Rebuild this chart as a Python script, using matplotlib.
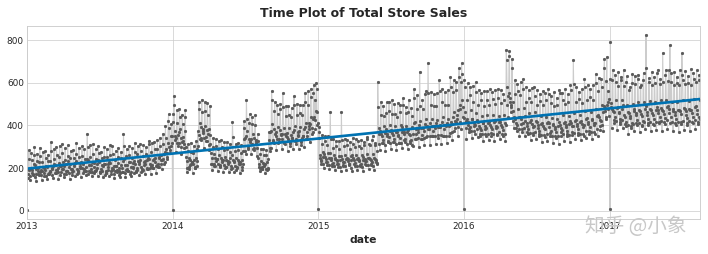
import numpy as np
import pandas as pd
import matplotlib
matplotlib.use("Agg")
import matplotlib.pyplot as plt
import matplotlib.dates as mdates

plt.style.use("seaborn-v0_8-whitegrid")
plt.rcParams["font.family"] = ["DejaVu Sans"]
plt.rc("axes", labelweight="bold", labelsize="large", titleweight="bold",
       titlesize=14, titlepad=10)

title = "Time Plot of Total Store Sales"
xlabel = "date"
watermark = "知乎 @小象"

# average daily sales, one list per year (rows of 7 days from Jan 1)
sales_2013 = [
    2, 196, 151, 172, 241, 283, 189,
    163, 201, 146, 198, 271, 236, 178,
    191, 168, 170, 219, 259, 297, 214,
    158, 193, 141, 174, 232, 268, 201,
    186, 172, 167, 226, 296, 258, 183,
    167, 189, 143, 186, 228, 274, 206,
    198, 176, 162, 192, 281, 249, 211,
    161, 203, 149, 171, 263, 232, 176,
    174, 188, 181, 231, 321, 278, 198,
    193, 166, 154, 208, 244, 287, 221,
    177, 214, 176, 191, 298, 263, 189,
    201, 181, 148, 224, 251, 305, 208,
    168, 209, 183, 197, 312, 271, 226,
    196, 174, 157, 211, 239, 292, 184,
    172, 217, 186, 186, 306, 258, 231,
    205, 178, 149, 221, 248, 281, 193,
    169, 193, 181, 188, 285, 247, 219,
    208, 224, 162, 231, 268, 318, 197,
    174, 186, 177, 184, 296, 253, 222,
    211, 198, 156, 226, 256, 301, 201,
    176, 219, 184, 193, 287, 244, 186,
    203, 187, 169, 241, 362, 297, 238,
    171, 214, 186, 179, 252, 306, 194,
    212, 181, 161, 229, 311, 266, 224,
    178, 206, 188, 184, 243, 289, 191,
    201, 219, 164, 236, 304, 271, 229,
    182, 176, 181, 197, 276, 248, 186,
    213, 209, 158, 221, 251, 298, 218,
    169, 186, 177, 178, 289, 254, 192,
    204, 218, 163, 229, 262, 307, 223,
    186, 174, 189, 202, 301, 268, 196,
    171, 208, 152, 184, 239, 281, 211,
    209, 189, 179, 223, 294, 251, 187,
    166, 201, 157, 176, 248, 276, 214,
    198, 181, 183, 232, 358, 302, 241,
    176, 212, 159, 191, 258, 289, 196,
    214, 188, 186, 228, 305, 262, 226,
    171, 206, 163, 183, 247, 292, 201,
    206, 222, 178, 234, 318, 276, 219,
    187, 183, 191, 198, 264, 301, 232,
    219, 227, 166, 238, 313, 279, 204,
    181, 194, 188, 192, 258, 306, 229,
    216, 219, 171, 231, 297, 268, 201,
    193, 236, 196, 247, 328, 311, 243,
    221, 201, 174, 209, 276, 318, 212,
    198, 238, 199, 241, 322, 289, 248,
    226, 209, 178, 216, 289, 331, 219,
    204, 246, 206, 252, 343, 304, 259,
    238, 221, 197, 236, 311, 362, 241,
    219, 268, 226, 274, 396, 341, 289,
    271, 252, 241, 318, 421, 452, 298,
    387, 286, 271, 302, 351, 408, 316,
    352,
]

sales_2014 = [
    5, 418, 452, 537, 496, 372, 331,
    352, 276, 341, 412, 471, 318, 356,
    301, 318, 367, 478, 438, 381, 298,
    342, 268, 322, 451, 406, 326, 347,
    296, 311, 376, 438, 472, 298, 254,
    231, 182, 201, 281, 312, 248, 196,
    204, 213, 238, 318, 276, 219, 227,
    226, 178, 219, 271, 302, 236, 201,
    198, 206, 246, 326, 291, 211, 232,
    372, 301, 356, 512, 478, 412, 338,
    331, 342, 394, 521, 462, 366, 372,
    384, 296, 341, 468, 509, 398, 329,
    346, 328, 378, 504, 447, 361, 381,
    308, 286, 312, 489, 356, 271, 221,
    246, 192, 218, 298, 341, 268, 208,
    219, 211, 249, 336, 302, 232, 241,
    241, 186, 221, 288, 326, 262, 203,
    212, 208, 246, 331, 298, 229, 236,
    238, 183, 214, 284, 321, 251, 198,
    206, 204, 238, 322, 287, 221, 229,
    231, 179, 226, 276, 314, 246, 194,
    209, 202, 261, 416, 346, 236, 227,
    233, 181, 208, 279, 312, 248, 191,
    204, 199, 236, 318, 284, 219, 226,
    228, 176, 219, 271, 306, 238, 189,
    206, 221, 281, 388, 421, 336, 278,
    341, 268, 352, 518, 432, 372, 296,
    302, 289, 336, 411, 452, 322, 331,
    338, 264, 311, 438, 406, 361, 289,
    296, 286, 342, 402, 447, 318, 326,
    331, 258, 296, 361, 326, 248, 206,
    218, 184, 198, 268, 291, 232, 193,
    197, 203, 224, 287, 262, 209, 218,
    221, 176, 196, 259, 284, 228, 189,
    194, 198, 241, 331, 368, 281, 296,
    368, 296, 372, 561, 518, 408, 331,
    326, 318, 381, 468, 512, 359, 352,
    371, 284, 338, 496, 452, 392, 318,
    334, 321, 379, 478, 501, 362, 356,
    362, 289, 338, 551, 488, 386, 318,
    321, 311, 362, 442, 491, 348, 346,
    366, 282, 334, 489, 451, 389, 316,
    318, 304, 356, 441, 482, 342, 339,
    371, 291, 378, 536, 497, 396, 326,
    328, 312, 336, 451, 502, 356, 348,
    368, 289, 372, 498, 458, 392, 321,
    332, 309, 341, 447, 496, 352, 351,
    381, 298, 392, 552, 508, 411, 336,
    352, 338, 368, 498, 561, 398, 382,
    412, 321, 406, 571, 532, 441, 362,
    389, 368, 431, 552, 591, 438, 426,
    521, 381, 468, 601, 571, 461, 402,
    412,
]

sales_2015 = [
    9, 341, 368, 392, 262, 248, 231,
    221, 236, 312, 356, 276, 219, 254,
    198, 264, 348, 326, 251, 241, 226,
    216, 229, 309, 351, 271, 212, 249,
    194, 271, 461, 338, 248, 236, 221,
    211, 224, 296, 334, 261, 208, 241,
    189, 248, 326, 304, 239, 232, 219,
    206, 221, 291, 329, 258, 204, 238,
    187, 256, 462, 331, 242, 228, 214,
    209, 226, 301, 338, 263, 211, 242,
    191, 249, 331, 306, 241, 234, 221,
    212, 218, 289, 324, 256, 202, 236,
    188, 259, 341, 312, 247, 237, 219,
    208, 224, 298, 336, 262, 209, 244,
    192, 246, 328, 301, 238, 231, 216,
    211, 219, 292, 331, 259, 206, 239,
    186, 251, 321, 309, 244, 235, 221,
    214, 232, 338, 346, 268, 214, 248,
    194, 249, 312, 308, 241, 236, 219,
    216, 226, 331, 351, 266, 211, 246,
    191, 242, 306, 316, 238, 229, 224,
    218, 281, 604, 486, 388, 312, 361,
    286, 372, 448, 512, 361, 352, 318,
    318, 331, 491, 446, 396, 308, 366,
    281, 381, 456, 508, 358, 349, 321,
    326, 346, 512, 468, 401, 318, 372,
    289, 379, 452, 519, 366, 356, 324,
    321, 336, 502, 452, 398, 311, 371,
    284, 368, 441, 506, 354, 348, 319,
    319, 341, 498, 461, 402, 316, 368,
    296, 392, 528, 496, 371, 362, 331,
    322, 338, 486, 458, 399, 314, 369,
    288, 378, 462, 521, 362, 354, 328,
    316, 332, 481, 446, 392, 306, 361,
    301, 412, 571, 531, 418, 338, 384,
    336, 359, 476, 541, 382, 371, 341,
    298, 402, 652, 492, 421, 338, 389,
    334, 354, 518, 476, 386, 376, 339,
    306, 408, 548, 562, 428, 346, 396,
    348, 381, 694, 551, 391, 384, 352,
    308, 412, 496, 558, 432, 348, 398,
    352, 376, 548, 491, 398, 389, 348,
    311, 409, 489, 551, 426, 342, 394,
    356, 392, 612, 562, 404, 391, 356,
    314, 418, 508, 571, 438, 352, 401,
    349, 381, 556, 498, 401, 396, 352,
    318, 412, 496, 564, 431, 348, 398,
    366, 402, 628, 581, 418, 408, 368,
    331, 438, 558, 612, 462, 372, 421,
    389, 418, 602, 568, 448, 431, 392,
    352, 471, 628, 668, 498, 418, 476,
    602, 381, 692, 641, 521, 438, 486,
    436,
]

sales_2016 = [
    8, 612, 578, 462, 386, 421, 338,
    431, 521, 598, 418, 404, 381, 368,
    392, 581, 542, 471, 372, 431, 341,
    428, 512, 586, 412, 398, 376, 362,
    401, 602, 556, 458, 381, 426, 346,
    416, 496, 568, 398, 389, 362, 351,
    378, 551, 521, 442, 358, 412, 326,
    412, 491, 562, 396, 384, 358, 348,
    386, 562, 518, 448, 362, 409, 331,
    418, 498, 571, 402, 391, 364, 352,
    381, 556, 526, 451, 361, 414, 329,
    421, 502, 568, 398, 388, 359, 354,
    392, 572, 531, 446, 368, 416, 336,
    416, 506, 566, 404, 392, 362, 351,
    378, 548, 521, 448, 359, 411, 328,
    402, 752, 708, 582, 498, 536, 441,
    552, 726, 748, 528, 512, 486, 462,
    498, 712, 671, 512, 421, 468, 386,
    441, 548, 612, 432, 411, 386, 372,
    402, 596, 561, 478, 382, 438, 348,
    438, 541, 604, 428, 408, 381, 369,
    412, 618, 572, 481, 389, 442, 352,
    421, 512, 578, 412, 396, 368, 358,
    384, 566, 528, 456, 364, 418, 332,
    424, 509, 574, 408, 394, 364, 356,
    396, 582, 536, 462, 371, 421, 338,
    414, 498, 566, 401, 388, 359, 349,
    376, 548, 514, 446, 356, 408, 321,
    411, 494, 561, 398, 386, 356, 346,
    381, 552, 521, 441, 359, 412, 326,
    418, 571, 548, 412, 391, 366, 348,
    372, 538, 506, 436, 352, 402, 318,
    408, 489, 556, 394, 382, 351, 342,
    368, 531, 498, 431, 348, 398, 314,
    416, 568, 552, 402, 388, 371, 349,
    379, 552, 518, 448, 358, 412, 326,
    418, 501, 572, 404, 392, 362, 352,
    376, 546, 512, 442, 356, 406, 322,
    421, 592, 568, 412, 396, 369, 354,
    398, 708, 596, 456, 366, 421, 338,
    426, 508, 579, 408, 398, 366, 356,
    384, 558, 522, 451, 362, 416, 331,
    422, 504, 571, 406, 394, 362, 352,
    402, 618, 578, 468, 372, 431, 342,
    436, 521, 592, 416, 406, 372, 362,
    392, 571, 534, 462, 368, 426, 338,
    431, 518, 588, 412, 402, 369, 359,
    412, 642, 598, 478, 381, 442, 351,
    448, 562, 621, 438, 424, 398, 378,
    421, 618, 581, 498, 402, 461, 372,
    489, 668, 712, 482, 468, 438, 432,
    608, 721, 498, 561, 478, 512, 446,
    526, 618,
]

sales_2017 = [
    8, 792, 486, 504, 386, 478, 612,
    662, 468, 462, 426, 412, 438, 638,
    604, 521, 421, 481, 378, 486, 586,
    651, 462, 458, 418, 408, 432, 629,
    612, 518, 426, 478, 389, 498, 662,
    586, 448, 441, 406, 396, 418, 604,
    631, 496, 402, 462, 361, 458, 568,
    578, 446, 436, 398, 388, 412, 598,
    641, 502, 408, 468, 372, 476, 634,
    596, 458, 448, 411, 402, 426, 618,
    638, 508, 412, 472, 368, 468, 581,
    589, 452, 442, 404, 398, 421, 612,
    648, 511, 418, 478, 381, 492, 826,
    671, 462, 451, 412, 404, 431, 621,
    602, 514, 416, 476, 372, 471, 589,
    652, 458, 448, 408, 401, 428, 626,
    598, 508, 418, 472, 378, 486, 648,
    662, 471, 456, 418, 409, 438, 596,
    618, 521, 421, 482, 376, 474, 741,
    602, 468, 452, 414, 406, 436, 638,
    661, 518, 424, 486, 382, 492, 608,
    658, 476, 458, 776, 411, 441, 646,
    604, 512, 418, 478, 374, 468, 592,
    649, 461, 448, 409, 402, 429, 628,
    598, 511, 416, 474, 371, 472, 589,
    662, 468, 452, 416, 408, 738, 638,
    612, 518, 421, 481, 378, 476, 596,
    654, 466, 451, 412, 404, 434, 631,
    601, 516, 422, 478, 376, 474, 592,
    664, 472, 456, 418, 409, 441, 648,
    618, 524, 426, 486, 382, 489, 604,
    658, 471, 452, 416, 408, 438, 636,
    612, 518, 431,
]

years = [2013, 2014, 2015, 2016, 2017]
yearly = [sales_2013, sales_2014, sales_2015, sales_2016, sales_2017]

dates = pd.DatetimeIndex([])
for yr, vals in zip(years, yearly):
    dates = dates.append(pd.date_range(f"{yr}-01-01", periods=len(vals), freq="D"))
sales = pd.Series(np.concatenate(yearly).astype(float), index=dates)

# linear trend on a time dummy
t = np.arange(len(sales))
coef = np.polyfit(t, sales.values, 1)
trend = pd.Series(np.polyval(coef, t), index=dates)

fig, ax = plt.subplots(figsize=(11, 3.9464), dpi=64.3637)
fig.subplots_adjust(left=0.038, right=0.989, top=0.898, bottom=0.138)

ax.plot(sales.index, sales.values, ".-", color="0.8", linewidth=1.2,
        markersize=5, markeredgecolor="0.35", markerfacecolor="0.35")
ax.plot(trend.index, trend.values, color="#0072B2", linewidth=3)

ax.set_xlim(sales.index[0], sales.index[-1])
ax.xaxis.set_major_locator(mdates.YearLocator())
ax.xaxis.set_major_formatter(mdates.DateFormatter("%Y"))
ax.set_yticks([0, 200, 400, 600, 800])
ax.set_title(title)
ax.set_xlabel(xlabel)

fig.text(0.898, 0.108, watermark, ha="center", va="center", fontsize=22,
         color="#c8c8c8", family=["Noto Sans CJK SC", "DejaVu Sans"])

fig.savefig("out.png", dpi=fig.dpi)
